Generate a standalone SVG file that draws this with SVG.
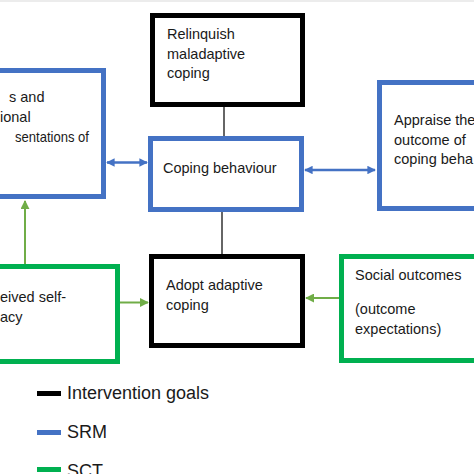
<svg xmlns="http://www.w3.org/2000/svg" width="474" height="474" viewBox="0 0 474 474">
<style>
text{font-family:"Liberation Sans",Arial,sans-serif;font-size:14.5px;fill:#1a1a1a}
.blk{fill:#fff;stroke:#000;stroke-width:5}
.blu{fill:#fff;stroke:#4472C4;stroke-width:5}
.grn{fill:#fff;stroke:#00B050;stroke-width:5}
.lnk{stroke:#333;stroke-width:1.5;fill:none}
.ba{stroke:#4472C4;stroke-width:2.5;fill:none;marker-start:url(#bh);marker-end:url(#bh)}
.ga{stroke:#70AD47;stroke-width:2;fill:none;marker-end:url(#gh)}
.leg{font-size:18px}
</style>
<defs>
<marker id="bh" viewBox="0 0 10 10" refX="9" refY="5" markerWidth="3.4" markerHeight="3.4" orient="auto-start-reverse" markerUnits="strokeWidth"><path d="M0,0L10,5L0,10z" fill="#4472C4"/></marker>
<marker id="gh" viewBox="0 0 10 10" refX="9" refY="5" markerWidth="4.5" markerHeight="4.5" orient="auto" markerUnits="strokeWidth"><path d="M0,0L10,5L0,10z" fill="#70AD47"/></marker>
</defs>
<rect x="0" y="0" width="474" height="474" fill="#fff"/>
<rect x="0" y="0" width="474" height="2" fill="#ececec"/>
<g id="connectors">
<line class="lnk" x1="224" y1="107" x2="224" y2="136"/>
<line class="lnk" x1="222" y1="212" x2="222" y2="254"/>
<line class="ba" x1="107" y1="162.5" x2="147" y2="162.5"/>
<line class="ba" x1="305" y1="170" x2="375" y2="170"/>
<line class="ga" x1="25" y1="264" x2="25" y2="201"/>
<line class="ga" x1="120" y1="302.5" x2="148" y2="302.5"/>
<line class="ga" x1="339" y1="298" x2="306" y2="298"/>
</g>
<g id="relinquish">
<rect class="blk" x="152.5" y="15.5" width="150" height="89"/>
<text x="167" y="39">Relinquish</text>
<text x="167" y="58.5">maladaptive</text>
<text x="167" y="78">coping</text>
</g>
<g id="representations">
<rect class="blu" x="-10" y="70.5" width="113.5" height="126"/>
<text x="9" y="102">s and</text>
<text x="0" y="122">ional</text>
<text x="15" y="142" textLength="74" lengthAdjust="spacingAndGlyphs">sentations of</text>
</g>
<g id="coping">
<rect class="blu" x="150.5" y="138.5" width="151" height="71"/>
<text x="163" y="173">Coping behaviour</text>
</g>
<g id="appraise">
<rect class="blu" x="379.5" y="82.5" width="110" height="126"/>
<text x="394" y="125">Appraise the</text>
<text x="394" y="144.5">outcome of</text>
<text x="394" y="164">coping beha</text>
</g>
<g id="selfefficacy">
<rect class="grn" x="-10" y="266.5" width="127.5" height="95"/>
<text x="0" y="302">eived self-</text>
<text x="0" y="322">acy</text>
</g>
<g id="adopt">
<rect class="blk" x="151.5" y="256.5" width="151" height="89"/>
<text x="166" y="290">Adopt adaptive</text>
<text x="166" y="310">coping</text>
</g>
<g id="social">
<rect class="grn" x="341.5" y="256.5" width="150" height="104"/>
<text x="355" y="280">Social outcomes</text>
<text x="355" y="314">(outcome</text>
<text x="355" y="334">expectations)</text>
</g>
<g id="legend">
<rect x="37" y="391" width="24" height="5" fill="#000"/>
<text class="leg" x="67" y="399">Intervention goals</text>
<rect x="37" y="430" width="24" height="5" fill="#4472C4"/>
<text class="leg" x="67" y="438">SRM</text>
<rect x="37" y="467" width="24" height="5" fill="#00B050"/>
<text class="leg" x="67" y="477">SCT</text>
</g>
</svg>
